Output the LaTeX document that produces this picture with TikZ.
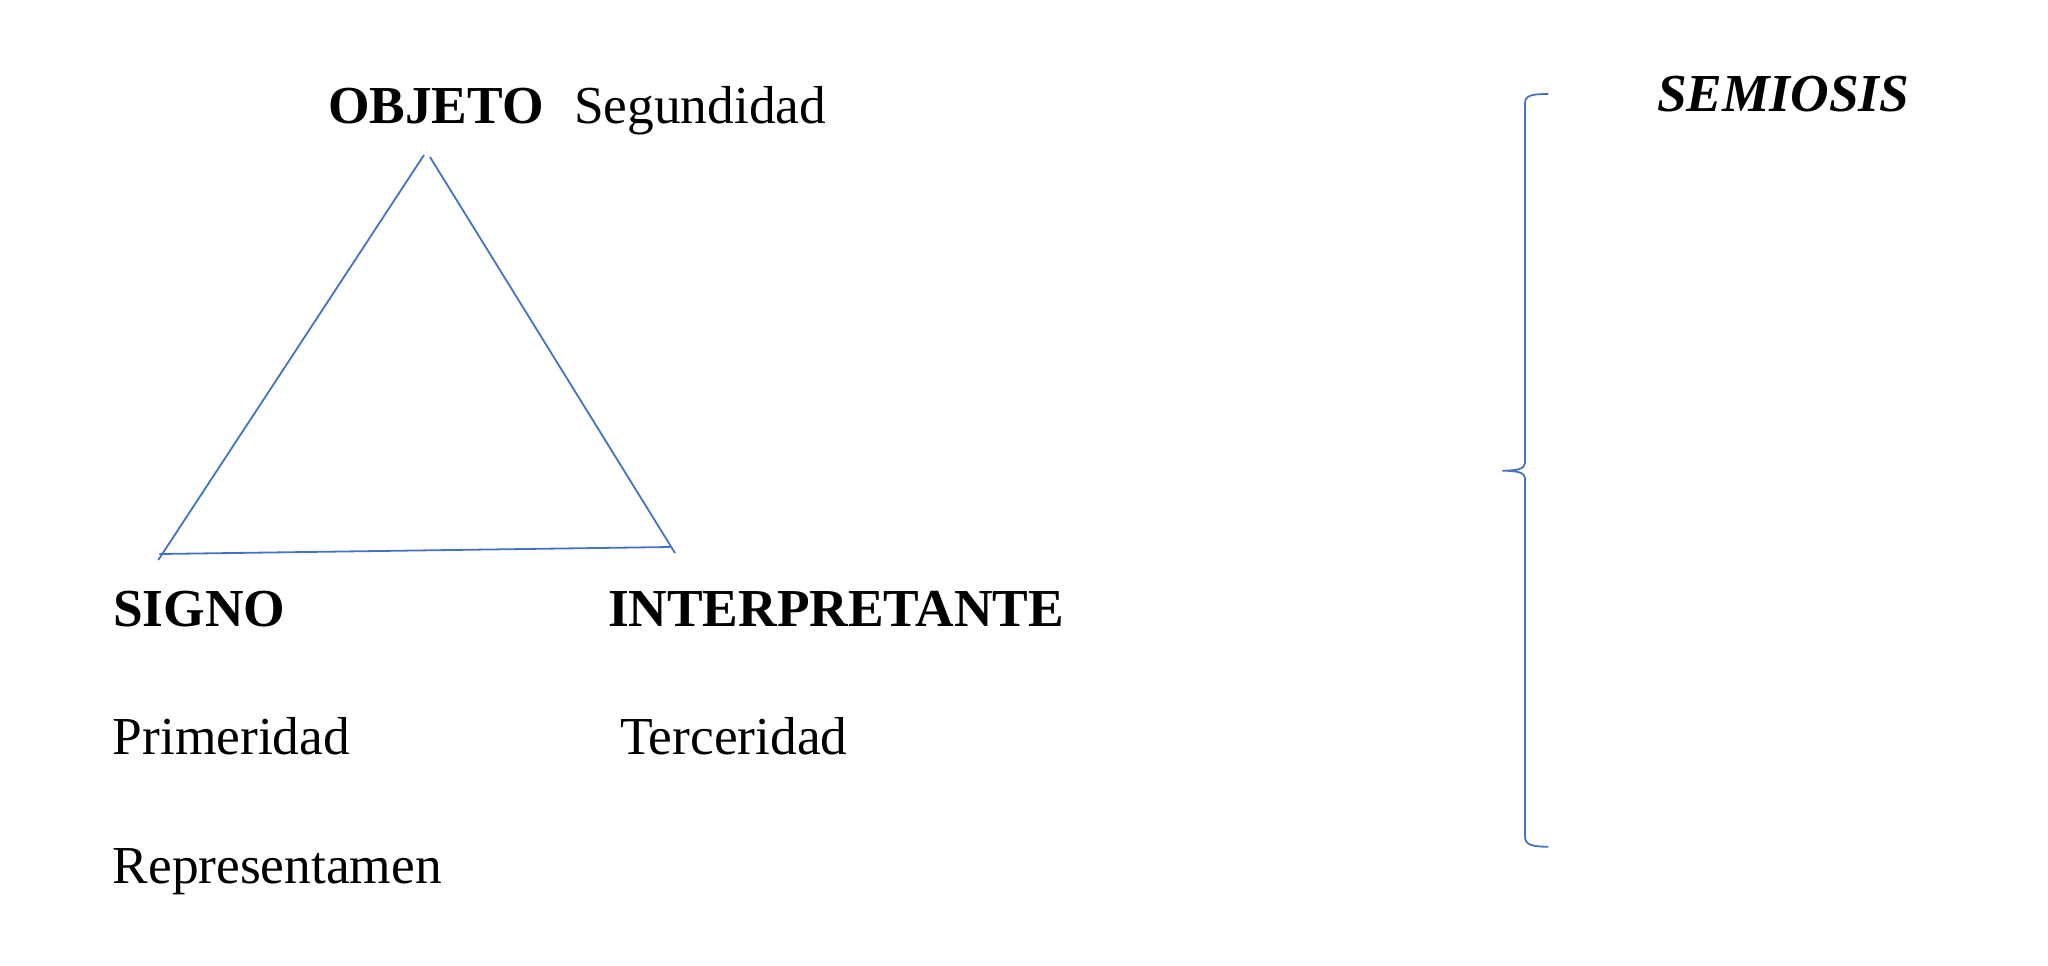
\documentclass[tikz,border=0pt]{standalone}
\usepackage{fontspec}
\setmainfont{Liberation Serif}
\definecolor{lineblue}{HTML}{4472C4}
\tikzset{
  lbl/.style={anchor=base west, inner sep=0pt, outer sep=0pt, font=\fontsize{26.7}{32}\selectfont},
  boldlbl/.style={lbl, font=\fontsize{26.7}{32}\selectfont\bfseries},
  tri/.style={draw=lineblue, line width=0.9pt},
}
\begin{document}
\begin{tikzpicture}[x=0.5pt, y=-0.5pt]
\useasboundingbox (0,0) rectangle (2048,965);
% texts
\node[boldlbl] (objeto) at (328,123.3) {OBJETO};
\node[lbl] (segundidad) at (574,123.3) {Segundidad};
\node[boldlbl] (signo) at (113,626.7) {SIGNO};
\node[boldlbl] (interp) at (608,626) {INTERPRETANTE};
\node[lbl] (primeridad) at (112.7,754.3) {Primeridad};
\node[lbl] (terceridad) at (620,754.3) {Terceridad};
\node[lbl] (represent) at (112.7,883.3) {Representamen};
\node[lbl, font=\fontsize{26.7}{32}\selectfont\bfseries\itshape] (semiosis) at (1657,111.7) {SEMIOSIS};
% triangle vertices
\coordinate (apexL) at (424,155);
\coordinate (apexR) at (430,157);
\coordinate (botL) at (158.3,560);
\coordinate (baseL) at (159.3,554);
\coordinate (baseR) at (670,547);
\coordinate (botR) at (675,553);
\draw[tri] (apexL) -- (botL);
\draw[tri] (apexR) -- (botR);
\draw[tri] (baseL) -- (baseR);
% brace
\coordinate (brTop) at (1548.3,94);
\coordinate (brTip) at (1502.7,470.7);
\coordinate (brBot) at (1548.3,846.7);
\draw[tri, line join=round] (brTop) .. controls (1533,94) and (1525,95) .. (1525,103)
  -- (1525,463) .. controls (1525,469) and (1516,470.7) .. (brTip)
  .. controls (1516,470.7) and (1525,472.5) .. (1525,478)
  -- (1525,837) .. controls (1525,845) and (1533,846.7) .. (brBot);
\end{tikzpicture}
\end{document}
